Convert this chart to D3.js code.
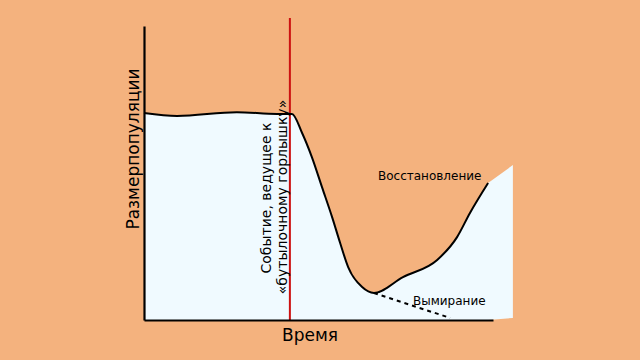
<!DOCTYPE html>
<html><head><meta charset="utf-8">
<script src="https://cdn.jsdelivr.net/npm/d3@7"></script>
<style>html,body{margin:0;padding:0;background:#F4B27E;}svg{display:block;}</style>
</head><body>
<svg id="c" width="640" height="360"></svg>
<script>
// Population size over time (arbitrary units, 0-100)
const time = [0, 9.5, 26.6, 38.1, 42.4, 45.3, 48.1, 51, 53.9, 56.2, 58.5, 62.5, 65.9, 74.2, 84, 89.7, 93.4, 98.6];
const population = [70.4, 69.4, 70.7, 70.1, 70.1, 63.6, 55.4, 45.2, 35, 26.2, 18, 11.2, 9.2, 14.6, 20.4, 28.2, 36.4, 46.6];
// faded continuation of recovery area
const extTime = [105.7, 105.7];
const extPop = [52.7, 0.7];
// extinction branch (dashed)
const extinctTime = [65.9, 87.7];
const extinctPop = [9.2, 0.7];
const eventTime = 41.8;
const labels = {y: "Размерпопуляции", x: "Время", event1: "Событие, ведущее к", event2: "«бутылочному горлышку»", recovery: "Восстановление", extinction: "Вымирание"};

const svg = d3.select("#c");
const x = d3.scaleLinear().domain([0, 100]).range([144, 493]);
const y = d3.scaleLinear().domain([0, 100]).range([320, 26]);
const pts = time.map((t, i) => [t, population[i]]);

const line = d3.line().x(d => x(d[0])).y(d => y(d[1])).curve(d3.curveMonotoneX);
let fillD = line(pts);
extTime.forEach((t, i) => { fillD += `L${x(t)},${y(extPop[i])}`; });
fillD += `L${x(time[time.length-1])},${y(0)}L${x(0)},${y(0)}Z`;
svg.append("path").attr("d", fillD).attr("fill", "#F0FAFF");

// event line
svg.append("line").attr("x1", x(eventTime)).attr("x2", x(eventTime)).attr("y1", 18).attr("y2", y(0))
  .attr("stroke", "#CC1111").attr("stroke-width", 2);

// axes
const xAxis = d3.axisBottom(x).tickValues([]).tickSizeOuter(0);
const yAxis = d3.axisLeft(y).tickValues([]).tickSizeOuter(0);
svg.append("g").attr("transform", `translate(0,${y(0)})`).call(xAxis)
  .select(".domain").attr("stroke", "#000").attr("stroke-width", 2.2);
svg.append("g").attr("transform", `translate(${x(0)},0)`).call(yAxis)
  .select(".domain").attr("stroke", "#000").attr("stroke-width", 2.2);

// curve
svg.append("path").attr("d", line(pts)).attr("fill", "none").attr("stroke", "#000").attr("stroke-width", 2);
const ex = extinctTime.map((t, i) => [t, extinctPop[i]]);
svg.append("path").attr("d", d3.line().x(d => x(d[0])).y(d => y(d[1]))(ex)).attr("fill", "none")
  .attr("stroke", "#000").attr("stroke-width", 2).attr("stroke-dasharray", "4,4");

const font = "DejaVu Sans";
svg.append("text").attr("transform", "translate(139,149) rotate(-90)").attr("text-anchor", "middle")
  .attr("font-family", font).attr("font-size", 17).attr("fill", "#000").text(labels.y);
svg.append("text").attr("x", 310).attr("y", 341).attr("text-anchor", "middle")
  .attr("font-family", font).attr("font-size", 17).attr("fill", "#000").text(labels.x);
svg.append("text").attr("transform", "translate(271,198) rotate(-90)").attr("text-anchor", "middle")
  .attr("font-family", font).attr("font-size", 14).attr("fill", "#000").text(labels.event1);
svg.append("text").attr("transform", "translate(287,197) rotate(-90)").attr("text-anchor", "middle")
  .attr("font-family", font).attr("font-size", 14).attr("fill", "#000").text(labels.event2);
svg.append("text").attr("x", 378).attr("y", 180)
  .attr("font-family", font).attr("font-size", 12).attr("fill", "#000").text(labels.recovery);
svg.append("text").attr("x", 413).attr("y", 305)
  .attr("font-family", font).attr("font-size", 12).attr("fill", "#000").text(labels.extinction);
</script>
</body></html>
